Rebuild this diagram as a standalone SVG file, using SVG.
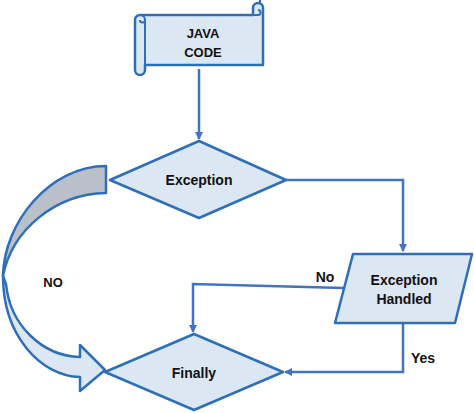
<svg xmlns="http://www.w3.org/2000/svg" width="474" height="413" viewBox="0 0 474 413">
<defs>
<marker id="arr" markerWidth="8" markerHeight="8" refX="7" refY="4" orient="auto" markerUnits="userSpaceOnUse">
<path d="M0,0 L8,4 L0,8 Z" fill="#4472c4"/>
</marker>
<style>
.node{fill:#dce7f4;stroke:#2e6fb7;stroke-width:2.5;stroke-linejoin:round}
.conn{fill:none;stroke:#4472c4;stroke-width:2.5}
.t{font-family:"Liberation Sans",Arial,sans-serif;font-weight:bold;font-size:14px;fill:#111;text-anchor:middle}
.ts{font-size:13px}
</style>
</defs>
<rect width="474" height="413" fill="#fff"/>
<g id="connectors">
<path class="conn" d="M199,69 V139" marker-end="url(#arr)"/>
<path class="conn" d="M286,180 H403 V251" marker-end="url(#arr)"/>
<path class="conn" d="M344,288 L193,284 V332" marker-end="url(#arr)"/>
<path class="conn" d="M403,323 V372 H285" marker-end="url(#arr)"/>
</g>
<g id="curved-arrow">
<path d="M106,166 V193 C55,194 12,230 3,276 C4,222 50,166 106,166 Z" fill="#b9c0c9" stroke="#2e6fb7" stroke-width="2.5" stroke-linejoin="round"/>
<path d="M3,276 C3,335 40,376 80,377 V391 L105,370 L80,345 V357 C42,356 10,325 6,284 Z" fill="#dce7f4" stroke="#2e6fb7" stroke-width="2.5" stroke-linejoin="round"/>
<text class="t" x="53" y="287" style="font-size:13px">NO</text>
</g>
<g id="java-code">
<path class="node" d="M135,20 a5,5 0 0 1 5,-5 H253 V8 a5,5 0 0 1 10,0 V65 H145 V70 a5,5 0 0 1 -10,0 Z"/>
<path d="M145,20 V70 M140,15 a5,5 0 0 1 5,5 a2.5,2.5 0 0 1 -5,0 M253,15 H258 a2.5,2.5 0 0 0 0,-5 M260,0 V4" fill="none" stroke="#2e6fb7" stroke-width="2"/>
<text class="t ts" x="203" y="38">JAVA</text>
<text class="t ts" x="203" y="57">CODE</text>
</g>
<g id="exception">
<path class="node" d="M110,180 L199,141 L286,180 L199,218 Z"/>
<text class="t" x="199" y="185">Exception</text>
</g>
<g id="exception-handled">
<path class="node" d="M353,254 H472 L455,323 H335 Z"/>
<text class="t" x="404" y="285">Exception</text>
<text class="t" x="404" y="304">Handled</text>
</g>
<g id="finally">
<path class="node" d="M105,372 L194,334 L283,372 L194,410 Z"/>
<text class="t" x="194" y="378">Finally</text>
</g>
<text class="t" x="325" y="282">No</text>
<text class="t" x="423" y="363">Yes</text>
</svg>
